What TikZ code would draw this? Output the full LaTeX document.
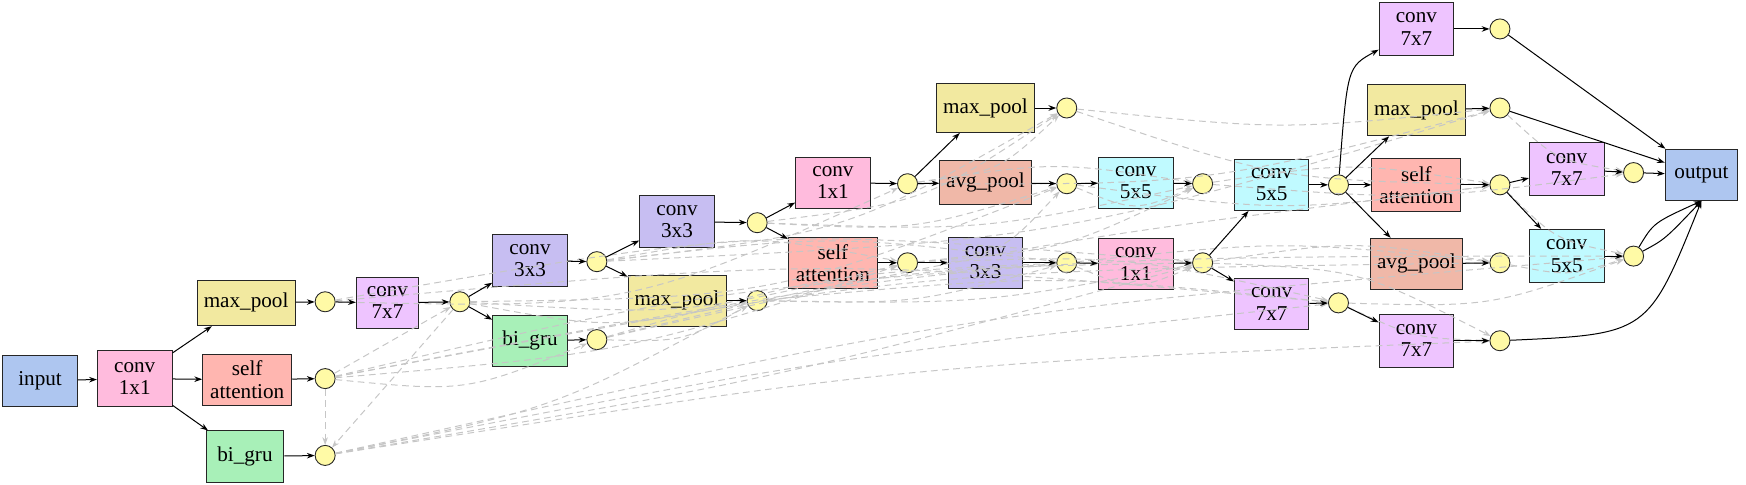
\documentclass[tikz,border=0pt]{standalone}
\usepackage{fontspec}
\setmainfont{Liberation Serif}
\usetikzlibrary{arrows.meta,calc}
\begin{document}
\begin{tikzpicture}[x=1pt,y=-1pt,
 box/.style={draw=black!85,line width=0.9pt,align=center,inner sep=0pt,font=\fontsize{19}{20}\selectfont,minimum height=46pt},
 c/.style={circle,draw=black!85,fill=yellow!35,line width=0.8pt,minimum size=18pt,inner sep=0pt},
 e/.style={-{Stealth[length=7pt,width=5pt]},line width=0.9pt,black},
 d/.style={-{Stealth[length=7pt,width=5pt]},line width=0.9pt,gray!45,dash pattern=on 6pt off 4pt}]
\useasboundingbox (0,0) rectangle (1568,435.5);
\definecolor{cin}{HTML}{AEC6F0}\definecolor{cone}{HTML}{FFBBDD}
\definecolor{cmp}{HTML}{F2E9A0}\definecolor{csa}{HTML}{FFB6B0}
\definecolor{cbg}{HTML}{A8F0B8}\definecolor{cs}{HTML}{EEC4FF}
\definecolor{cth}{HTML}{C7BEF2}\definecolor{cap}{HTML}{F0B8A8}
\definecolor{cfi}{HTML}{C0FAFF}
\node[box,fill=cin,minimum width=67pt] (in) at (36,342) {input};
\node[box,fill=cone,minimum width=67pt,minimum height=50pt] (c1) at (121,340) {conv\\1x1};
\node[box,fill=cmp,minimum width=88pt,minimum height=41pt] (mp1) at (221,272) {max\_pool};
\node[box,fill=csa,minimum width=80pt] (sa1) at (222,341) {self\\attention};
\node[box,fill=cbg,minimum width=70pt] (bg1) at (220,410) {bi\_gru};
\node[c] (A) at (292,271) {};\node[c] (B) at (292,340) {};\node[c] (C) at (292,409) {};
\node[box,fill=cs,minimum width=56pt] (k7a) at (348,272) {conv\\7x7};
\node[c] (D) at (413,271) {};
\node[box,fill=cth,minimum width=67pt] (k3a) at (476,234) {conv\\3x3};
\node[box,fill=cbg,minimum width=67pt] (bg2) at (476,306) {bi\_gru};
\node[c] (E) at (536,235) {};\node[c] (F) at (536,305) {};
\node[box,fill=cth,minimum width=67pt] (k3b) at (608,199) {conv\\3x3};
\node[box,fill=cmp,minimum width=88pt] (mp2) at (608,270) {max\_pool};
\node[c] (G) at (680,200) {};\node[c] (H) at (680,270) {};
\node[box,fill=cone,minimum width=67pt] (k1a) at (748,164) {conv\\1x1};
\node[box,fill=csa,minimum width=80pt] (sa2) at (748,236) {self\\attention};
\node[c] (I) at (815,165) {};\node[c] (J) at (815,236) {};
\node[box,fill=cmp,minimum width=88pt,minimum height=44pt] (mp3) at (885,97) {max\_pool};
\node[box,fill=cap,minimum width=82pt,minimum height=40pt] (ap1) at (885,164) {avg\_pool};
\node[box,fill=cth,minimum width=67pt] (k3c) at (885,236) {conv\\3x3};
\node[c] (K) at (958,97) {};\node[c] (L) at (958,165) {};\node[c] (M) at (958,236) {};
\node[box,fill=cfi,minimum width=67pt] (k5a) at (1020,164) {conv\\5x5};
\node[box,fill=cone,minimum width=67pt] (k1b) at (1020,237) {conv\\1x1};
\node[c] (N) at (1080,165) {};\node[c] (O) at (1080,236) {};
\node[box,fill=cfi,minimum width=67pt] (k5b) at (1142,166) {conv\\5x5};
\node[box,fill=cs,minimum width=67pt] (k7b) at (1142,273) {conv\\7x7};
\node[c] (P) at (1202,166) {};\node[c] (Q) at (1202,272) {};
\node[box,fill=cs,minimum width=67pt,minimum height=48pt] (k7c) at (1272,26) {conv\\7x7};
\node[box,fill=cmp,minimum width=88pt,minimum height=46pt] (mp4) at (1272,99) {max\_pool};
\node[box,fill=csa,minimum width=80pt,minimum height=48pt] (sa3) at (1272,166) {self\\attention};
\node[box,fill=cap,minimum width=82pt] (ap2) at (1272,237) {avg\_pool};
\node[box,fill=cs,minimum width=67pt,minimum height=48pt] (k7d) at (1272,306) {conv\\7x7};
\node[c] (R) at (1347,26) {};\node[c] (S) at (1347,97) {};\node[c] (T) at (1347,166) {};
\node[c] (U) at (1347,236) {};\node[c] (V) at (1347,306) {};
\node[box,fill=cs,minimum width=67pt,minimum height=48pt] (k7e) at (1407,152) {conv\\7x7};
\node[box,fill=cfi,minimum width=67pt,minimum height=48pt] (k5c) at (1407,230) {conv\\5x5};
\node[c] (W) at (1467,155) {};\node[c] (X) at (1467,230) {};
\node[box,fill=cin,minimum width=65pt] (out) at (1528,157) {output};
% dashed skip connections (curved, offset in pt at the middle)
\foreach \a/\b/\s in {A/I/-60,A/Q/40,A/O/50,B/F/-30,B/J/-30,B/M/25,B/U/45,B/X/55,
 C/H/-30,C/O/-20,C/Q/20,C/V/30,C/X/40,D/H/-25,D/J/-30,D/L/-50,E/J/25,E/M/25,E/K/-45,E/S/-50,
 F/H/-20,F/M/25,F/O/30,F/T/20,G/K/-35,G/L/-25,G/N/-25,H/M/-20,H/O/-20,H/Q/25,I/K/-25,I/N/20,I/S/-35,
 J/L/-30,J/N/-25,J/Q/25,K/S/-20,K/T/-30,L/N/-25,L/T/-25,M/O/-25,M/U/20,N/T/20,N/W/-20,
 O/U/20,O/V/30,Q/X/-25,Q/V/-15,S/W/-20,U/X/-15,T/X/-20}
 \draw[d] (\a) .. controls ($(\a)!0.5!(\b)!\s pt!90:(\b)$) .. (\b);
\draw[d] (B) -- (C);
\draw[d] (D) -- (C);
\draw[d] (B) -- (D);
% main edges
\foreach \a/\b in {in/c1,c1/mp1,c1/sa1,c1/bg1,mp1/A,sa1/B,bg1/C,A/k7a,k7a/D,D/k3a,D/bg2,k3a/E,bg2/F,
 E/k3b,E/mp2,k3b/G,mp2/H,G/k1a,G/sa2,k1a/I,sa2/J,I/mp3,I/ap1,mp3/K,ap1/L,J/k3c,k3c/M,L/k5a,k5a/N,
 M/k1b,k1b/O,O/k5b,O/k7b,k5b/P,k7b/Q,P/mp4,P/sa3,P/ap2,Q/k7d,k7c/R,mp4/S,sa3/T,ap2/U,k7d/V,
 T/k7e,T/k5c,k7e/W,k5c/X,R/out,S/out,W/out}
 \draw[e] (\a) -- (\b);
\draw[e] (P) .. controls (1210,60) .. (k7c);
\draw[e] (X) .. controls (1485,200) .. (out.south);
\draw[e] (X) .. controls (1495,215) .. (out.south);
\draw[e] (V) .. controls (1480,300) .. (out.south);
\end{tikzpicture}
\end{document}
